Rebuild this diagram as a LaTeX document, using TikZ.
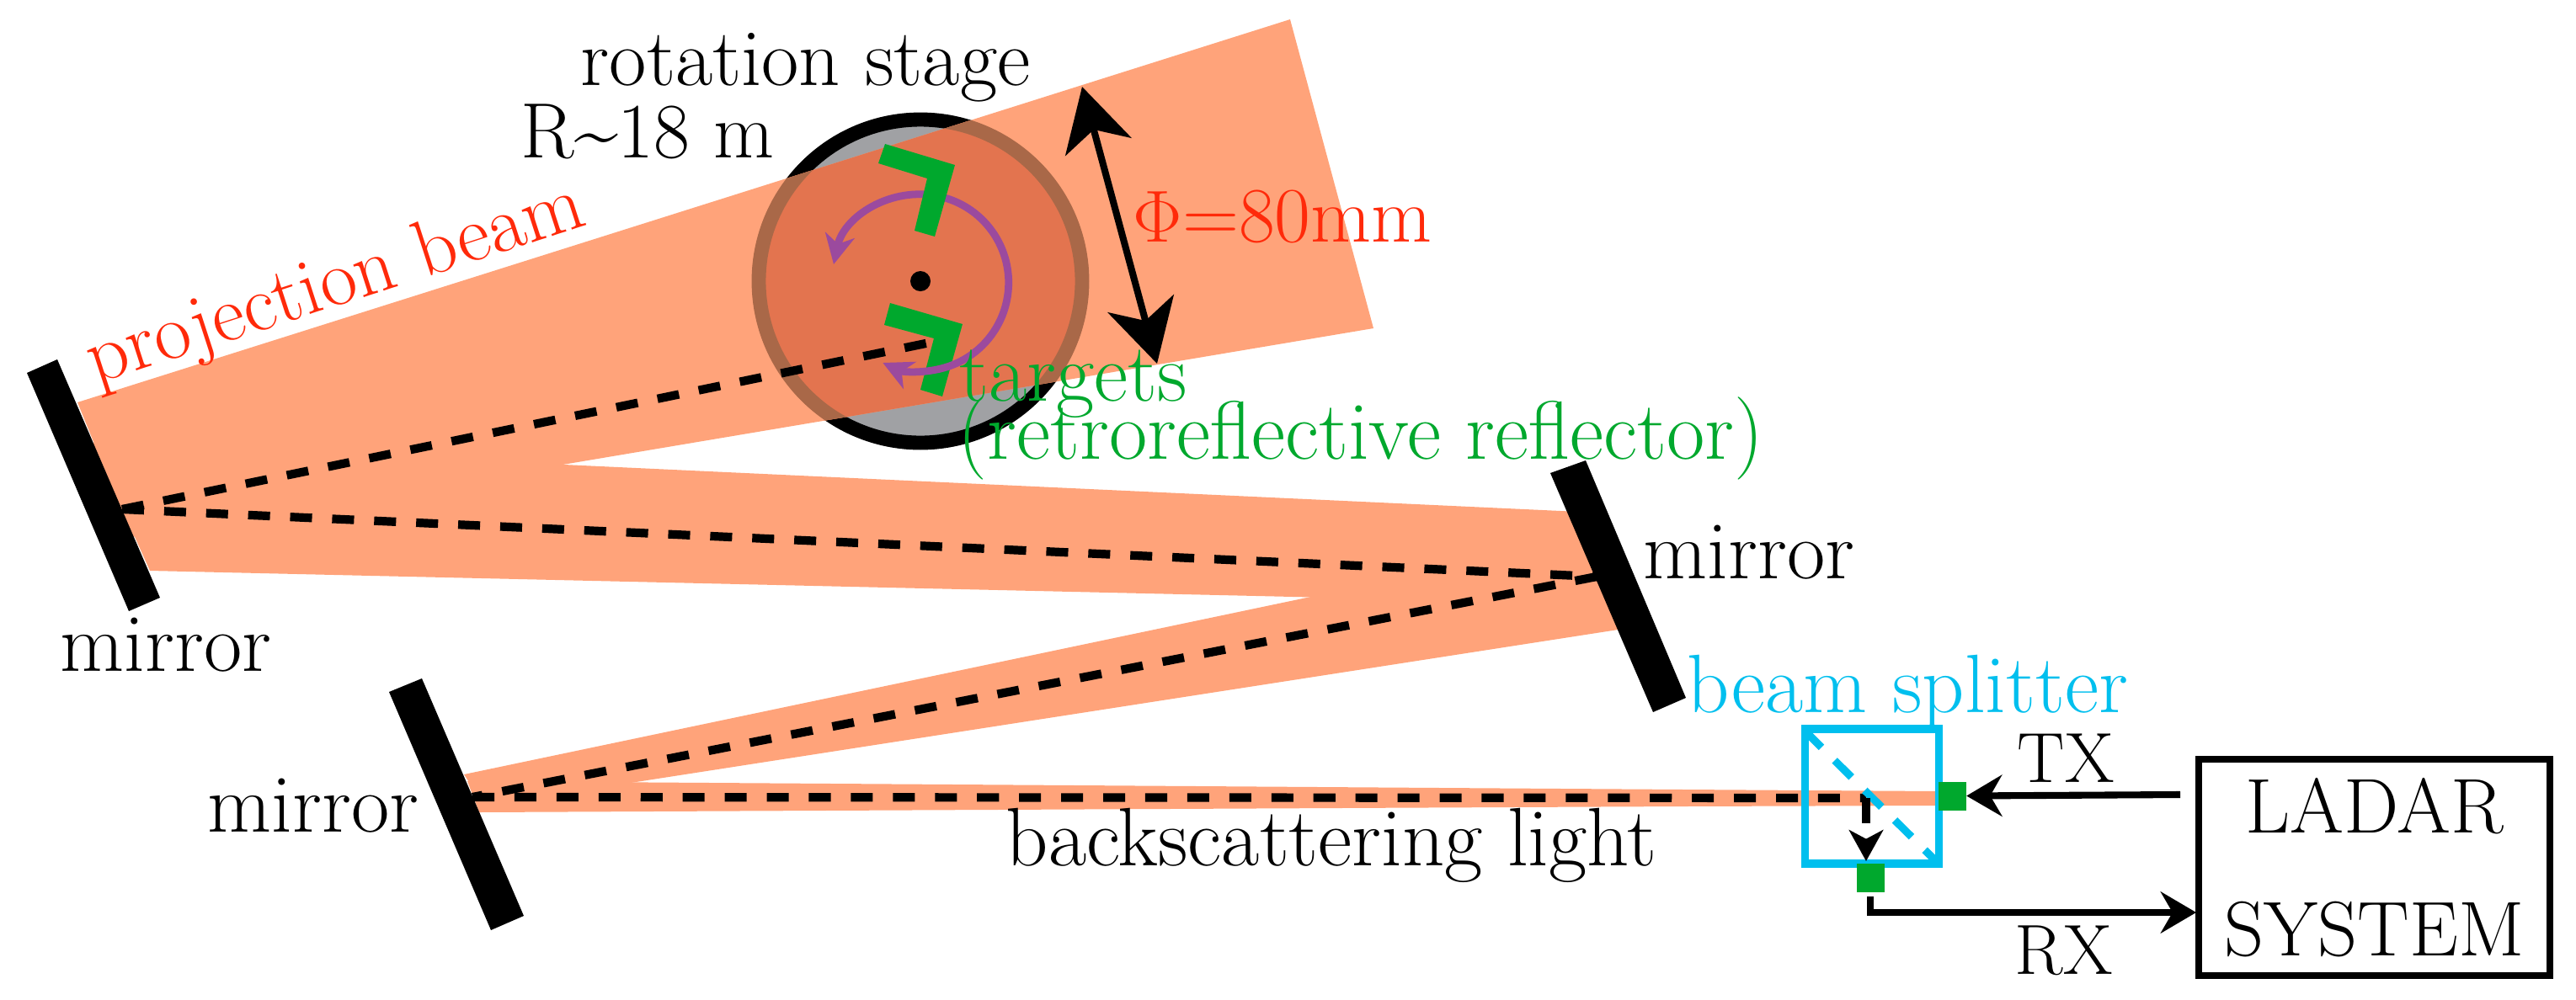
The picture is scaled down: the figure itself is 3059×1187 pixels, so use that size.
\documentclass[tikz,border=0pt]{standalone}
\usetikzlibrary{arrows.meta}
\definecolor{beamcol}{HTML}{FFA37A}
\definecolor{stagecol}{HTML}{A0A1A4}
\definecolor{overcol}{HTML}{E3744F}
\definecolor{ringcol}{HTML}{A96848}
\definecolor{targetcol}{HTML}{00A82D}
\definecolor{turncol}{HTML}{9B4A9E}
\definecolor{splitcol}{HTML}{00BFEE}
\definecolor{redtext}{HTML}{FF2A0A}
\tikzset{
  every node/.style={inner sep=0pt,font=\fontsize{28}{41.5}\selectfont},
  txt/.style={anchor=base west},
  txtmid/.style={anchor=base west,font=\fontsize{26.5}{41.5}\selectfont},
  txtsmall/.style={anchor=base west,font=\fontsize{24}{30}\selectfont},
  beam/.style={fill=beamcol},
  target/.style={fill=targetcol},
  port/.style={fill=targetcol,minimum width=33*0.01cm,minimum height=34*0.01cm},
  ray/.style={line width=2.9pt,dash pattern=on 7.4pt off 6.8pt},
  link/.style={line width=2.3pt,-{Stealth[length=12pt,width=14pt,inset=4pt]}},
}
\begin{document}
\begin{tikzpicture}[x=0.01cm,y=0.01cm]
\useasboundingbox (0,0) rectangle (3059,-1187);
% stage under the beam
\coordinate (stagecentre) at (1093,-334);
\fill[stagecol] (stagecentre) circle[radius=200];
\draw[line width=4.8pt] (stagecentre) circle[radius=192];
% beams
\fill[beam] (92,-478) -- (1532,-23) -- (1631,-390) -- (157,-638) -- cycle;
\fill[beam] (110,-526) -- (1875,-608) -- (1930,-718) -- (178,-678) -- cycle;
\fill[beam] (551,-920) -- (1890,-639) -- (1928,-747) -- (575,-957) -- cycle;
\fill[beam] (555,-928) -- (2000,-938) -- (2302,-940) -- (2302,-957) -- (2000,-958) -- (569,-965) -- cycle;
% part of the stage seen through the beam
\begin{scope}
  \clip (92,-478) -- (1532,-23) -- (1631,-390) -- (157,-638) -- cycle;
  \fill[overcol] (stagecentre) circle[radius=200];
  \draw[ringcol,line width=4.8pt] (stagecentre) circle[radius=192];
\end{scope}
% mirrors
\fill (32,-443) -- (68,-427) -- (190,-710) -- (153,-726) -- cycle;
\fill (1841,-562) -- (1883,-547) -- (2002,-829) -- (1963,-846) -- cycle;
\fill (462,-822) -- (501,-806) -- (622,-1088) -- (583,-1105) -- cycle;
% targets and rotation
\fill[target] (1057,-360) -- (1143,-385) -- (1119,-471) -- (1093,-463) -- (1109,-402) -- (1050,-386) -- cycle;
\draw[turncol,line width=2.5pt,{Stealth[length=10pt,width=10pt,inset=3pt]}-{Stealth[length=10pt,width=10pt,inset=3pt]}]
  (990,-314) arc[start angle=168,end angle=-115,radius=105];
\fill[target] (1051,-171) -- (1134,-196) -- (1110,-281) -- (1086,-274) -- (1101,-212) -- (1043,-194) -- cycle;
\fill (stagecentre) circle[radius=12];
% optical path
\coordinate (mirrorA) at (145,-605);
\coordinate (mirrorB) at (1896,-685);
\coordinate (mirrorC) at (561,-947);
\coordinate (targetend) at (1109,-406);
\coordinate (splitpt) at (2216,-948);
\draw[ray] (mirrorA) -- (targetend);
\draw[ray] (mirrorA) -- (mirrorB);
\draw[ray] (mirrorB) -- (mirrorC);
\draw[ray] (mirrorC) -- (splitpt);
% beam splitter
\draw[splitcol,line width=2.6pt] (2143.5,-866) rectangle (2302.5,-1026);
\draw[splitcol,line width=2.6pt,dash pattern=on 8pt off 6.3pt] (2143,-868) -- (2302,-1026);
\node[port] (txport) at (2318,-945.5) {};
\node[port] (rxport) at (2221,-1042.5) {};
\coordinate (splitdown) at (2216,-1023);
\draw[line width=2.9pt,dash pattern=on 8.5pt off 6pt,-{Stealth[length=10.5pt,width=11.5pt,inset=3pt]}] (splitpt) -- (splitdown);
% ladar
\node[draw,line width=2.4pt,minimum width=417*0.01cm,minimum height=257*0.01cm,align=center,font=\fontsize{26.2}{41.5}\selectfont] (ladar) at (2819.5,-1030.5) {LADAR\\SYSTEM};
\coordinate (ladartx) at (2589,-944);
\coordinate (ladarrx) at (2608,-1084);
\draw[link] (ladartx) -- (txport.east);
\draw[link] (rxport.south) ++(0,-5) |- (ladarrx);
% labels
\node[txtmid,font=\fontsize{27.4}{30}\selectfont] (stagelabel) at (689,-101) {rotation stage};
\node[txtmid] (radius) at (618,-187) {R\textasciitilde 18 m};
\node[txtmid,redtext,rotate=18,font=\fontsize{27}{30}\selectfont] (projlabel) at (113,-457) {projection beam};
\node[txtmid,redtext] (philabel) at (1345,-287) {$\Phi$=80mm};
\node[txt,targetcol] (targetlabel) at (1139,-476) {targets};
\node[txt,targetcol] (retrolabel) at (1137,-545) {(retroreflective reflector)};
\node[txt] (mirrorAlabel) at (71,-797) {mirror};
\node[txt] (mirrorBlabel) at (1951,-687) {mirror};
\node[txt] (mirrorClabel) at (246,-988) {mirror};
\node[txt,splitcol] (splitlabel) at (2003,-846) {beam splitter};
\node[txt] (backlabel) at (1194,-1028) {backscattering light};
\node[txtsmall] (txlabel) at (2395,-929) {TX};
\node[txtsmall] (rxlabel) at (2392,-1157) {RX};
% diameter arrow
\coordinate (phitop) at (1285,-103);
\coordinate (phibot) at (1374,-432);
\draw[line width=2.3pt,{Stealth[length=21pt,width=23pt,inset=6pt]}-{Stealth[length=21pt,width=23pt,inset=6pt]}] (phitop) -- (phibot);
\end{tikzpicture}
\end{document}
